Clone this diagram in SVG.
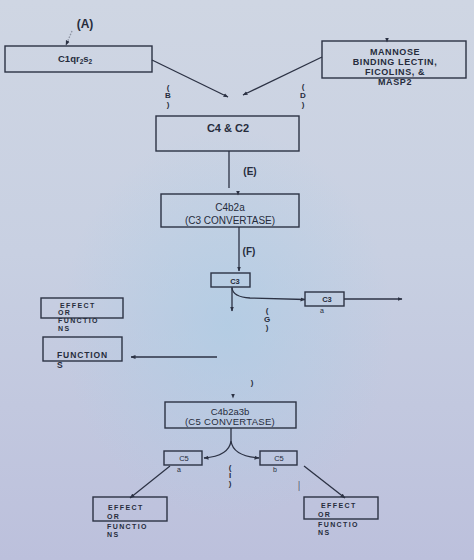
<svg xmlns="http://www.w3.org/2000/svg" width="474" height="560" viewBox="0 0 474 560">
<defs>
<linearGradient id="bg" x1="0" y1="0" x2="0" y2="1">
<stop offset="0" stop-color="#cfd6e3"/>
<stop offset="0.45" stop-color="#c8d0e2"/>
<stop offset="1" stop-color="#bcc0dc"/>
</linearGradient>
<radialGradient id="glow" cx="0.48" cy="0.58" r="0.35">
<stop offset="0" stop-color="#a9cde6" stop-opacity="0.6"/>
<stop offset="1" stop-color="#a9cde6" stop-opacity="0"/>
</radialGradient>
<marker id="ah" viewBox="0 0 10 10" refX="9" refY="5" markerWidth="5" markerHeight="5" orient="auto" markerUnits="userSpaceOnUse">
<path d="M0,1 L10,5 L0,9 z" fill="#2c3244"/>
</marker>
</defs>
<style>
.box{fill:none;stroke:#2c3244;stroke-width:1.4}
.ln{fill:none;stroke:#2c3244;stroke-width:1.3}
.t{font-family:"Liberation Sans",Arial,sans-serif;fill:#262c3c}
.b{font-weight:bold}
.sm{font-size:7px;font-weight:bold;letter-spacing:1.4px}
</style>
<rect width="474" height="560" fill="url(#bg)"/>
<rect width="474" height="560" fill="url(#glow)"/>

<g id="connectors">
<line class="ln" x1="72" y1="31" x2="66" y2="45" stroke-dasharray="1.5 1.5" stroke-opacity="0.4" marker-end="url(#ah)"/>
<line class="ln" x1="387" y1="36" x2="387" y2="42" stroke-opacity="0" marker-end="url(#ah)"/>
<line class="ln" x1="152" y1="60" x2="228" y2="97" marker-end="url(#ah)"/>
<line class="ln" x1="322" y1="57" x2="243" y2="95" marker-end="url(#ah)"/>
<line class="ln" x1="229" y1="151" x2="229" y2="188"/>
<line class="ln" x1="238" y1="188" x2="238" y2="195" stroke-opacity="0" marker-end="url(#ah)"/>
<line class="ln" x1="239" y1="227" x2="239" y2="271" marker-end="url(#ah)"/>
<line class="ln" x1="232" y1="287" x2="232" y2="311" marker-end="url(#ah)"/>
<path class="ln" d="M232,288 Q233,297 250,298 L305,299.5" marker-end="url(#ah)"/>
<line class="ln" x1="344" y1="299" x2="402" y2="299" marker-end="url(#ah)"/>
<line class="ln" x1="217" y1="357" x2="131" y2="357" marker-end="url(#ah)"/>
<line class="ln" x1="233" y1="390" x2="233" y2="398" stroke-opacity="0" marker-end="url(#ah)"/>
<line class="ln" x1="231" y1="428" x2="231" y2="441"/>
<path class="ln" d="M231,441 Q229,456 204,458" marker-end="url(#ah)"/>
<path class="ln" d="M231,441 Q233,456 259,458" marker-end="url(#ah)"/>
<line class="ln" x1="170" y1="466" x2="130" y2="498" marker-end="url(#ah)"/>
<line class="ln" x1="304" y1="466" x2="345" y2="498" marker-end="url(#ah)"/>
</g>

<g id="labels">
<text class="t b" x="85" y="28" font-size="12" text-anchor="middle">(A)</text>
<g class="t b" font-size="8" text-anchor="middle">
<text x="168" y="90">(</text><text x="168" y="98">B</text><text x="168" y="107">)</text>
<text x="303" y="89">(</text><text x="303" y="98">D</text><text x="303" y="107">)</text>
<text x="267" y="313">(</text><text x="267" y="322">G</text><text x="267" y="330">)</text>
<text x="252" y="385">)</text>
<text x="230" y="470">(</text><text x="230" y="478">I</text><text x="230" y="486">)</text>
</g>
<text class="t b" x="250" y="175" font-size="10" text-anchor="middle">(E)</text>
<text class="t b" x="249" y="255" font-size="10" text-anchor="middle">(F)</text>
<text class="t" x="299" y="489" font-size="10" text-anchor="middle" fill-opacity="0.7">|</text>
</g>

<g id="c1qrs">
<rect class="box" x="5" y="46" width="147" height="26"/>
<text class="t b" x="58" y="62" font-size="9.5">C1qr<tspan font-size="6.5" dy="1.5">2</tspan><tspan dy="-1.5">s</tspan><tspan font-size="6.5" dy="1.5">2</tspan></text>
</g>

<g id="mannose">
<rect class="box" x="322" y="41" width="144" height="37"/>
<g class="t b" font-size="9" letter-spacing="0.6" text-anchor="middle">
<text x="395" y="55">MANNOSE</text>
<text x="395" y="65">BINDING LECTIN,</text>
<text x="395" y="75">FICOLINS, &amp;</text>
<text x="395" y="85">MASP2</text>
</g>
</g>

<g id="c4c2">
<rect class="box" x="156" y="116" width="143" height="35"/>
<text class="t b" x="228" y="132" font-size="11" text-anchor="middle">C4 &amp; C2</text>
</g>

<g id="c4b2a">
<rect class="box" x="161" y="194" width="138" height="33"/>
<text class="t" x="230" y="211" font-size="10" text-anchor="middle">C4b2a</text>
<text class="t" x="230" y="224" font-size="10" text-anchor="middle">(C3 CONVERTASE)</text>
</g>

<g id="c3">
<rect class="box" x="211" y="273" width="39" height="14"/>
<text class="t" x="235" y="284" font-size="7.5" font-weight="bold" text-anchor="middle">C3</text>
</g>

<g id="c3a">
<rect class="box" x="305" y="292" width="39" height="14"/>
<text class="t" x="327" y="302" font-size="7.5" font-weight="bold" text-anchor="middle">C3</text>
<text class="t" x="322" y="313" font-size="7" text-anchor="middle">a</text>
</g>

<g id="effect1">
<rect class="box" x="41" y="298" width="82" height="20"/>
<text class="t sm" x="60" y="308">EFFECT</text>
<text class="t sm" x="58" y="315">OR</text>
<text class="t sm" x="58" y="323">FUNCTIO</text>
<text class="t sm" x="58" y="331">NS</text>
</g>

<g id="functions">
<rect class="box" x="43" y="337" width="79" height="24"/>
<text class="t b" x="57" y="358" font-size="8.5" letter-spacing="0.9">FUNCTION</text>
<text class="t b" x="57" y="368" font-size="8.5">S</text>
</g>

<g id="c4b2a3b">
<rect class="box" x="165" y="402" width="131" height="26"/>
<text class="t" x="230" y="415" font-size="9.5" text-anchor="middle">C4b2a3b</text>
<text class="t" x="230" y="425" font-size="9.5" text-anchor="middle" letter-spacing="0.3">(C5 CONVERTASE)</text>
</g>

<g id="c5a">
<rect class="box" x="164" y="451" width="38" height="14"/>
<text class="t" x="184" y="461" font-size="7.5" text-anchor="middle">C5</text>
<text class="t" x="179" y="472" font-size="7" text-anchor="middle">a</text>
</g>

<g id="c5b">
<rect class="box" x="260" y="451" width="37" height="14"/>
<text class="t" x="279" y="461" font-size="7.5" text-anchor="middle">C5</text>
<text class="t" x="275" y="472" font-size="7" text-anchor="middle">b</text>
</g>

<g id="effect2">
<rect class="box" x="93" y="497" width="74" height="24"/>
<text class="t sm" x="108" y="510" font-weight="normal">EFFECT</text>
<text class="t sm" x="107" y="519" font-weight="normal">OR</text>
<text class="t sm" x="107" y="529" font-weight="normal">FUNCTIO</text>
<text class="t sm" x="107" y="537" font-weight="normal">NS</text>
</g>

<g id="effect3">
<rect class="box" x="304" y="497" width="74" height="22"/>
<text class="t sm" x="321" y="508" font-weight="normal">EFFECT</text>
<text class="t sm" x="318" y="517" font-weight="normal">OR</text>
<text class="t sm" x="318" y="527" font-weight="normal">FUNCTIO</text>
<text class="t sm" x="318" y="535" font-weight="normal">NS</text>
</g>
</svg>
